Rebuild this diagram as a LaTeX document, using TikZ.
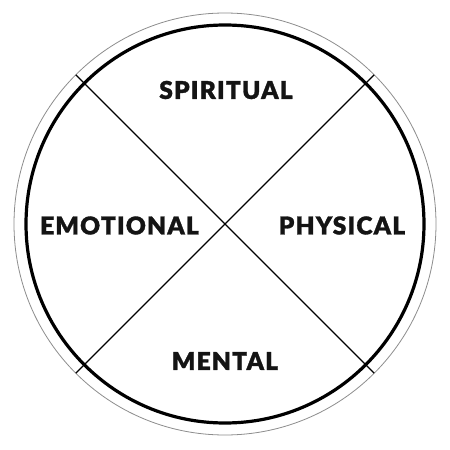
\documentclass[tikz,border=0pt]{standalone}
\usepackage{fontspec}
\setmainfont{Lato}[BoldFont={Lato Black}]
\newfontfamily\lblfont{Lato Black}[LetterSpace=5,FakeBold=1.2]
\usetikzlibrary{calc}
\begin{document}
\begin{tikzpicture}[x=1pt,y=-1pt,
  lbl/.style={font=\lblfont\fontsize{24.5}{26}\selectfont, text=black!92, inner sep=0pt, anchor=center},
  cross/.style={black, line width=1.4pt}]
\useasboundingbox (0,0) rectangle (450,450);
\coordinate (c) at (225,224);
\draw[black!45, line width=0.8pt] (c) circle[radius=211];
\draw[black, line width=3.2pt] (c) circle[radius=199];
\coordinate (tl) at ($(c)+(-149.2,-149.2)$);
\coordinate (tr) at ($(c)+(149.2,-149.2)$);
\coordinate (bl) at ($(c)+(-149.2,149.2)$);
\coordinate (br) at ($(c)+(149.2,149.2)$);
\draw[cross] (tl) -- (br);
\draw[cross] (tr) -- (bl);
\node[lbl] (spiritual) at (226,90) {SPIRITUAL};
\node[lbl] (emotional) at (119.5,225.5) {EMOTIONAL};
\node[lbl] (physical) at (342,225.5) {PHYSICAL};
\node[lbl] (mental) at (225,361) {MENTAL};
\end{tikzpicture}
\end{document}
